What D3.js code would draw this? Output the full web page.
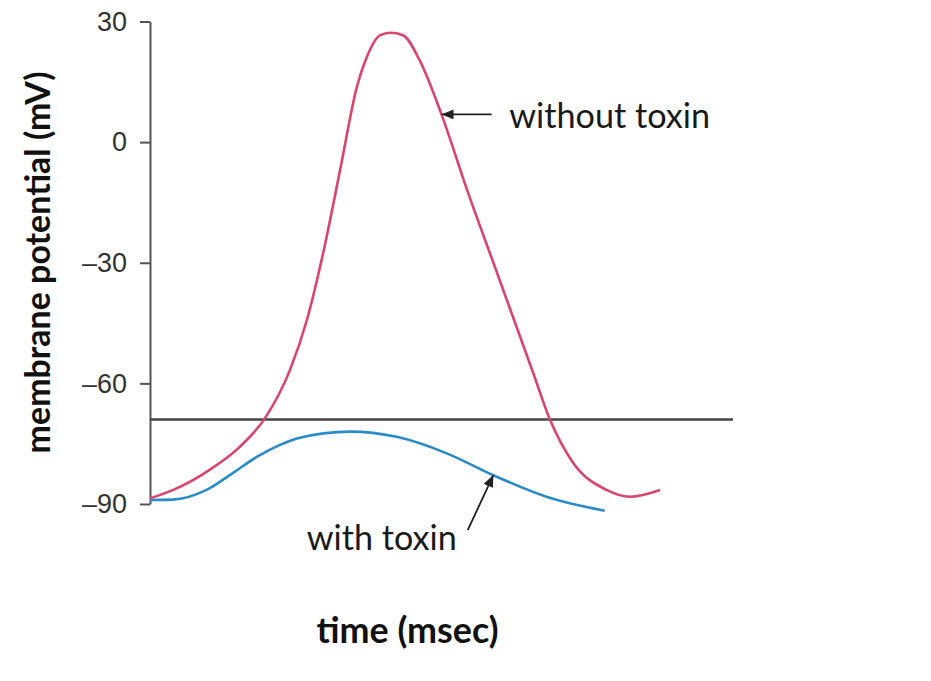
<!DOCTYPE html>
<html>
<head>
<meta charset="utf-8">
<script src="https://cdn.jsdelivr.net/npm/d3@7"></script>
<style>
  html, body { margin: 0; padding: 0; background: #fff; }
  svg { display: block; }
</style>
</head>
<body>
<svg id="chart" width="931" height="681"></svg>
<script>
// ---- data (time in arbitrary units, membrane potential in mV) ----
const timeWithout = [0, 0.4, 0.97, 1.54, 1.97, 2.40, 2.69, 2.97, 3.26, 3.55, 3.72, 3.95, 4.12, 4.34, 4.63, 5.00, 5.43, 6.00, 6.57, 6.86, 7.26, 7.83, 8.23, 8.75];
const vWithout    = [-88.6, -86.5, -82.0, -75.8, -68.7, -56.7, -44.3, -27.6, -7.0, 13.8, 21.2, 26.6, 27.2, 26.6, 20.2, 6.9, -11.5, -34.4, -57.3, -69.0, -79.8, -86.5, -88.2, -86.5];
const timeWith = [0, 0.39, 0.97, 1.42, 1.83, 2.23, 2.52, 3.43, 4.23, 5.09, 5.88, 6.80, 7.80];
const vWith    = [-89.0, -88.9, -86.5, -82.3, -78.3, -75.3, -73.7, -72.0, -73.3, -77.4, -82.8, -88.2, -91.7];
const yTicks = [30, 0, -30, -60, -90];
const threshold = -69;
const seriesNames = ["without toxin", "with toxin"];

const svg = d3.select("#chart");
const x = d3.scaleLinear().domain([0, 10]).range([150, 733]);
const y = d3.scaleLinear().domain([-90, 30]).range([504, 21.5]);

// fit text to a target width (reference uses fonts not available here)
function fit(sel, target) {
  const node = sel.node();
  const fs = parseFloat(sel.attr("font-size"));
  const w = node.getComputedTextLength();
  if (w > 0) sel.attr("font-size", (fs * target / w).toFixed(2));
  return sel;
}

// y axis
const yAxis = d3.axisLeft(y)
  .tickValues(yTicks)
  .tickSize(10)
  .tickSizeOuter(0)
  .tickPadding(13)
  .tickFormat(d => d < 0 ? "\u2013" + Math.abs(d) : String(d));
const gy = svg.append("g").attr("transform", `translate(${x(0)},0)`).call(yAxis);
gy.select(".domain").attr("stroke", "#555").attr("stroke-width", 2);
gy.selectAll(".tick line").attr("stroke", "#555").attr("stroke-width", 2);
gy.selectAll(".tick text")
  .attr("fill", "#333")
  .attr("font-family", "'Liberation Sans', Arial, sans-serif")
  .attr("font-size", 27);

// threshold line
svg.append("line")
  .attr("x1", x(0)).attr("x2", x(10))
  .attr("y1", y(threshold)).attr("y2", y(threshold))
  .attr("stroke", "#444").attr("stroke-width", 2.5);

// curves
const line = d3.line()
  .x(d => x(d[0])).y(d => y(d[1]))
  .curve(d3.curveMonotoneX);

svg.append("path")
  .datum(d3.zip(timeWith, vWith))
  .attr("d", line)
  .attr("fill", "none")
  .attr("stroke", "#2a8cc6")
  .attr("stroke-width", 2.6);

svg.append("path")
  .datum(d3.zip(timeWithout, vWithout))
  .attr("d", line)
  .attr("fill", "none")
  .attr("stroke", "#d9456f")
  .attr("stroke-width", 2.6);

// arrows + annotation labels
const defs = svg.append("defs");
defs.append("marker")
  .attr("id", "arrow")
  .attr("viewBox", "0 0 12 10")
  .attr("refX", 12).attr("refY", 5)
  .attr("markerWidth", 12).attr("markerHeight", 10)
  .attr("markerUnits", "userSpaceOnUse")
  .attr("orient", "auto")
  .append("path").attr("d", "M0,0 L12,5 L0,10 Z").attr("fill", "#222");

const annotations = [
  { label: seriesNames[0], tail: [5.86, 6.9], tip: [5.00, 6.9], text: [6.16, 3.6], width: 201 },
  { label: seriesNames[1], tail: [5.45, -96.5], tip: [5.89, -82.8], text: [2.69, -101.5], width: 150 }
];
annotations.forEach(a => {
  svg.append("line")
    .attr("x1", x(a.tail[0])).attr("y1", y(a.tail[1]))
    .attr("x2", x(a.tip[0])).attr("y2", y(a.tip[1]))
    .attr("stroke", "#222").attr("stroke-width", 1.8)
    .attr("marker-end", "url(#arrow)");
  const t = svg.append("text")
    .attr("x", x(a.text[0])).attr("y", y(a.text[1]))
    .attr("font-family", "Lato, 'Open Sans', sans-serif")
    .attr("font-size", 27)
    .attr("fill", "#1a1a1a")
    .text(a.label);
  fit(t, a.width);
});

// axis titles
const xt = svg.append("text")
  .attr("x", 407.5).attr("y", 643)
  .attr("text-anchor", "middle")
  .attr("font-family", "Lato, 'Open Sans', sans-serif")
  .attr("font-weight", "bold")
  .attr("font-size", 27)
  .attr("fill", "#111")
  .text("time (msec)");
fit(xt, 182);

const yt = svg.append("text")
  .attr("transform", "translate(50,262.5) rotate(-90)")
  .attr("text-anchor", "middle")
  .attr("font-family", "Lato, 'Open Sans', sans-serif")
  .attr("font-weight", "bold")
  .attr("font-size", 27)
  .attr("fill", "#111")
  .text("membrane potential (mV)");
fit(yt, 382);
</script>
</body>
</html>
